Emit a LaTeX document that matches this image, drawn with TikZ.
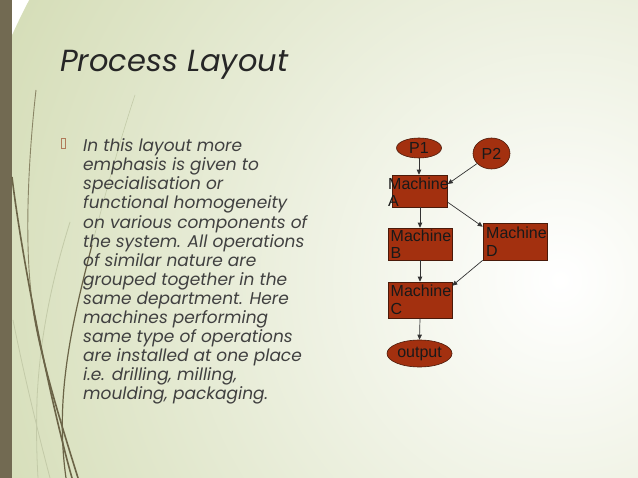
\documentclass[tikz,border=0pt]{standalone}
\usepackage{fontspec}
\setmainfont{Liberation Sans}
\newfontfamily\gothic{Poppins}
\usetikzlibrary{arrows.meta,calc,shapes.geometric}
\definecolor{bgout}{HTML}{D6DEB9}
\definecolor{barcol}{HTML}{726A52}
\definecolor{curvedark}{HTML}{6B6447}
\definecolor{curvemid}{HTML}{8A8566}
\definecolor{curvefaint}{HTML}{C3CAA8}
\definecolor{boxfill}{HTML}{A3300F}
\definecolor{boxline}{HTML}{4A1A0A}
\definecolor{bodytext}{HTML}{404040}
\definecolor{titletext}{HTML}{262626}
\definecolor{bulletcol}{HTML}{B07A5A}
\tikzset{
  mbox/.style={draw=boxline, fill=boxfill, line width=0.6pt, inner sep=0pt},
  mell/.style={ellipse, draw=boxline, fill=boxfill, line width=0.6pt, inner sep=0pt,
    font=\fontsize{16}{18}\selectfont, text=black!90},
  lab/.style={anchor=base west, inner sep=0pt, font=\fontsize{16}{18}\selectfont, text=black!90},
  flow/.style={draw=black!80, line width=0.7pt, -{Triangle[length=5pt,width=4.5pt]}},
  bodyline/.style={anchor=base west, inner sep=0pt, text=bodytext,
    font=\gothic\itshape\fontsize{17}{19}\selectfont},
}
\begin{document}
\begin{tikzpicture}[x=1pt,y=-1pt]
\useasboundingbox (0,0) rectangle (638,478);
% background
\begin{scope}
\clip (0,0) rectangle (638,478);
\shade[inner color=white, outer color=bgout] (560,280) circle[radius=600pt];
\fill[barcol] (0,0) rectangle (12.3,478);
% decorative curves
\draw[curvefaint, line width=0.8pt] (70,222) .. controls (55,270) and (40,330) .. (37,400) .. controls (36,440) and (37,460) .. (38,478);
\draw[curvefaint, line width=0.8pt] (13,320) .. controls (25,380) and (40,440) .. (50,478);
\draw[curvefaint, line width=0.6pt] (92,245) .. controls (105,195) and (120,140) .. (135,95);
\draw[curvemid, line width=0.9pt] (36,90) .. controls (27,170) and (25,250) .. (32,300);
\draw[curvedark, line width=1.6pt] (32,300) .. controls (38,350) and (60,420) .. (78,478);
\draw[curvedark, line width=1.6pt] (12,177) .. controls (22,260) and (50,400) .. (72,478);
\draw[curvedark, line width=1.2pt] (66,478) .. controls (55,400) and (70,330) .. (92,245);
\end{scope}
% title
\node[anchor=base west, inner sep=0pt, text=titletext, font=\gothic\itshape\fontsize{30.5}{36}\selectfont] (title) at (60,71.7) {Process Layout};
% bullet
\draw[bulletcol, line width=0.7pt] (61,138.5) rectangle (65,148);
% body text
\foreach \t [count=\i from 0] in {In this layout more,emphasis is given to,specialisation or,functional homogeneity,on various components of,the system. All operations,of similar nature are,grouped together in the,same department. Here,machines performing,same type of operations,are installed at one place,{i.e. drilling, milling,},{moulding, packaging.}}
  \node[bodyline] (line\i) at (83,151.7+19.1*\i) {\t};
% diagram
\node[mell, minimum width=45pt, minimum height=20pt] (P1) at (419,148) {P1};
\node[mell, minimum width=37pt, minimum height=31pt] (P2) at (491.5,153.5) {P2};
\node[mbox, minimum width=55pt, minimum height=32pt] (mA) at (420,191) {};
\node[mbox, minimum width=64pt, minimum height=32pt] (mB) at (420,244) {};
\node[mbox, minimum width=64pt, minimum height=37pt] (mD) at (515,241.5) {};
\node[mbox, minimum width=64pt, minimum height=36pt] (mC) at (420,300) {};
\node[mell, minimum width=65pt, minimum height=27pt] (out) at (419.5,353.5) {output};
\node[lab] (tA1) at (388,190) {Machine};
\node[lab] (tA2) at (388,207) {A};
\node[lab] (tB1) at (390.5,242) {Machine};
\node[lab] (tB2) at (390.5,259) {B};
\node[lab] (tD1) at (486,239) {Machine};
\node[lab] (tD2) at (486,257) {D};
\node[lab] (tC1) at (390.5,297) {Machine};
\node[lab] (tC2) at (390.5,315) {C};
\draw[flow] (P1.south) -- (mA.north -| P1.south);
\draw[flow] (P2) -- ($(mA.east)+(0,-7)$);
\draw[flow] (mA.south) -- (mB.north);
\draw[flow] ($(mA.south east)+(0,-5)$) -- ($(mD.north west)+(0,4)$);
\draw[flow] (mB.south) -- (mC.north);
\draw[flow] (mD.south west) -- ($(mC.north east)+(0,4)$);
\draw[flow] (mC.south) -- (out.north);
\end{tikzpicture}
\end{document}
